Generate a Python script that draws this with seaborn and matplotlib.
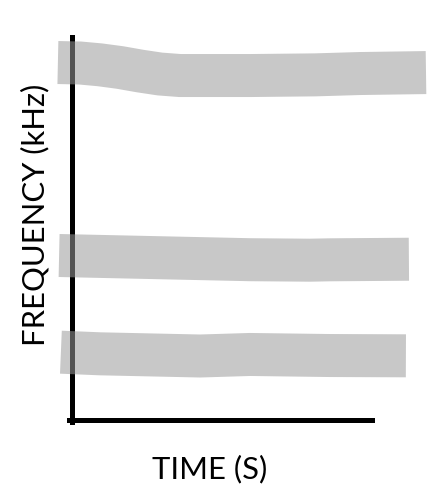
import numpy as np
import pandas as pd
import matplotlib
matplotlib.use("Agg")
import matplotlib.pyplot as plt
import seaborn as sns

# ---- data (time in s, frequency in kHz) ----
f1_time = [-0.037, 0.093, 0.427, 0.593, 0.86, 1.113]
f1_freq = [0.704, 0.687, 0.664, 0.680, 0.669, 0.666]

f2_time = [-0.043, 0.26, 0.593, 0.793, 0.86, 1.123]
f2_freq = [1.715, 1.694, 1.671, 1.666, 1.670, 1.676]

f3_time = [-0.047, 0.027, 0.093, 0.16, 0.227, 0.293, 0.36, 0.593, 0.81, 0.96, 1.18]
f3_freq = [3.733, 3.728, 3.709, 3.681, 3.644, 3.613, 3.597, 3.597, 3.604, 3.618, 3.628]

x_label = "TIME (S)"
y_label = "FREQUENCY (kHz)"

df = pd.concat([
    pd.DataFrame({"formant": "F1", "time": f1_time, "freq": f1_freq}),
    pd.DataFrame({"formant": "F2", "time": f2_time, "freq": f2_freq}),
    pd.DataFrame({"formant": "F3", "time": f3_time, "freq": f3_freq}),
], ignore_index=True)

# ---- style / layout ----
sns.set_theme(style="white")
plt.rcParams["font.family"] = ["Lato", "DejaVu Sans"]

DPI = 72
fig = plt.figure(figsize=(432 / DPI, 500 / DPI), dpi=DPI)
fig.patch.set_facecolor("white")
ax = fig.add_axes([0, 0, 1, 1])

PX_T, PX_F, X0, Y0 = 300.0, 95.625, 72.0, 419.5
ax.set_xlim(-X0 / PX_T, (432 - X0) / PX_T)
ax.set_ylim(-(500 - Y0) / PX_F, Y0 / PX_F)

band = "#9b9b9b"
sns.lineplot(data=df, x="time", y="freq", hue="formant",
             palette={"F1": band, "F2": band, "F3": band},
             estimator=None, legend=False, ax=ax,
             linewidth=43, alpha=0.55, solid_capstyle="butt",
             solid_joinstyle="round", zorder=3)

for s in ["top", "right"]:
    ax.spines[s].set_visible(False)
for s in ["left", "bottom"]:
    ax.spines[s].set_position(("data", 0))
    ax.spines[s].set_linewidth(5)
    ax.spines[s].set_color("black")
ax.spines["left"].set_bounds(-0.026, 4.0)
ax.spines["bottom"].set_bounds(-0.01, 1.0)

ax.set_xticks([])
ax.set_yticks([])
ax.set_xlabel("")
ax.set_ylabel("")
ax.set_facecolor("white")

ax.text(0.081, 0.57, y_label, rotation=90, transform=ax.transAxes,
        ha="center", va="center", fontsize=31, color="black")
ax.text(0.486, 0.062, x_label, transform=ax.transAxes,
        ha="center", va="center", fontsize=31, color="black")

fig.savefig("out.png", dpi=DPI, facecolor="white")
